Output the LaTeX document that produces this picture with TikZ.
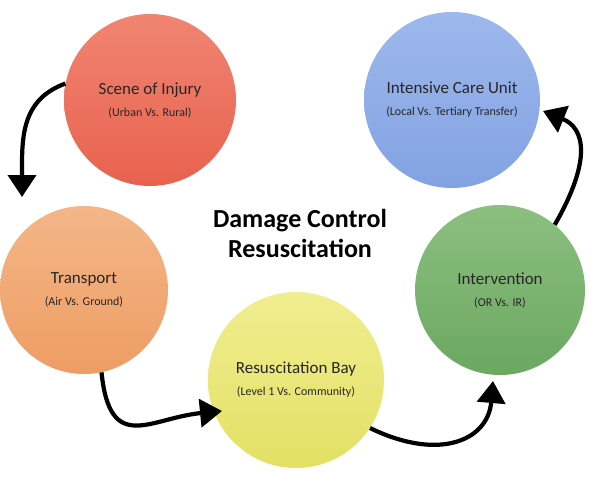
\documentclass[tikz,border=0pt]{standalone}
\usepackage{fontspec}
\setmainfont{Carlito}
\usetikzlibrary{arrows.meta}
\definecolor{scA}{HTML}{F08572}\definecolor{scB}{HTML}{E8624E}
\definecolor{icA}{HTML}{9DB8EC}\definecolor{icB}{HTML}{82A2E2}
\definecolor{trA}{HTML}{F4B688}\definecolor{trB}{HTML}{EE9D64}
\definecolor{baA}{HTML}{F0EE90}\definecolor{baB}{HTML}{E3E064}
\definecolor{inA}{HTML}{8CBF80}\definecolor{inB}{HTML}{6BA860}
\begin{document}
\begin{tikzpicture}[x=1pt,y=-1pt,
  stage/.style={circle,minimum size=172pt,inner sep=0pt,align=center,font=\fontsize{17}{20}\selectfont,text=black!85},
  flow/.style={line width=4.2pt,-{Triangle[length=22pt,width=28pt]}}]
\useasboundingbox (0,0) rectangle (609,489);
\node[stage,top color=scA,bottom color=scB] (scene) at (150,100) {Scene of Injury\\[2pt]{\fontsize{12}{14}\selectfont(Urban Vs. Rural)}};
\node[stage,top color=icA,bottom color=icB,minimum size=176pt] (icu) at (452,100) {Intensive Care Unit\\[2pt]{\fontsize{12}{14}\selectfont(Local Vs. Tertiary Transfer)}};
\node[stage,top color=trA,bottom color=trB,minimum size=168pt] (trans) at (84,290) {Transport\\[2pt]{\fontsize{12}{14}\selectfont(Air Vs. Ground)}};
\node[stage,top color=baA,bottom color=baB,minimum size=176pt] (bay) at (296,380) {Resuscitation Bay\\[2pt]{\fontsize{12}{14}\selectfont(Level 1 Vs. Community)}};
\node[stage,top color=inA,bottom color=inB,minimum size=170pt] (interv) at (500,290) {Intervention\\[2pt]{\fontsize{12}{14}\selectfont(OR Vs. IR)}};
\node[font=\bfseries\fontsize{26}{30}\selectfont,align=center] (title) at (300,233) {Damage Control\\Resuscitation};
\coordinate (e1) at (22,197);
\coordinate (e2) at (222,411);
\coordinate (e3) at (493,381);
\coordinate (e4) at (543,111);
\draw[flow] (scene.169) .. controls (20,100) and (22,140) .. (e1);
\draw[flow] (trans.-78) .. controls (110,455) and (150,418) .. (e2);
\draw[flow] (bay.-33) .. controls (440,462) and (488,440) .. (e3);
\draw[flow] (interv.50) .. controls (592,160) and (585,128) .. (e4);
\end{tikzpicture}
\end{document}
